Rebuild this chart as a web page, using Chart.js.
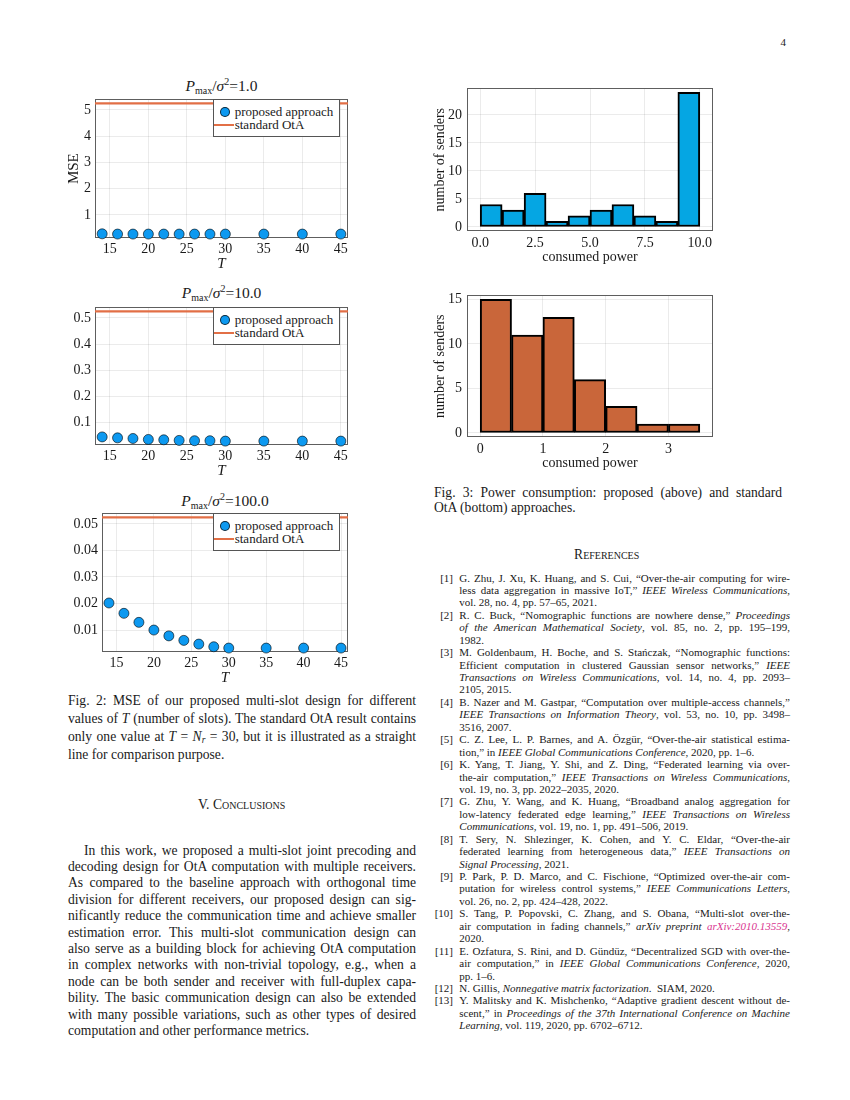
<!DOCTYPE html>
<html><head><meta charset="utf-8">
<title>MSE and power consumption</title>
<script src="https://cdn.jsdelivr.net/npm/chart.js@4.4.1/dist/chart.umd.min.js"></script>
<style>
html,body{margin:0;padding:0;background:#fff}
body{position:relative;width:850px;height:1100px;overflow:hidden;font-family:"Liberation Serif","Times New Roman",serif;color:#1a1a1a}
canvas{position:absolute}
.ct{position:absolute;font-size:15.5px;line-height:18px;text-align:center;white-space:nowrap}
.ct sub{font-size:10px;line-height:0;vertical-align:-3px}
.ct sup{font-size:10px;line-height:0;vertical-align:6px}
.lg{position:absolute;border:1px solid #555;background:#fff;box-sizing:border-box;z-index:5;width:127px;height:38px}
.lg .dot{position:absolute;left:6px;top:7px;width:10px;height:10px;border-radius:50%;background:#0d99f0;border:0.8px solid rgba(0,0,0,.75);box-sizing:border-box}
.lg .ln{position:absolute;left:0;top:23.5px;width:20px;height:2px;background:#e26f46}
.lg .tx{position:absolute;left:21px;font-size:13px;line-height:14px;white-space:nowrap}
.blk{position:absolute}
.blk div{white-space:nowrap}
.ref{position:relative;padding-left:25.3px}
.ref .n{position:absolute;left:0;top:0;width:19px;text-align:right}
.sc{position:absolute;font-variant:small-caps;white-space:nowrap;text-align:center}
sub.r{font-size:70%;line-height:0;vertical-align:-2px}
.pink{color:#d9348f}
</style>
</head>
<body>

<div style="position:absolute;left:760px;top:34px;width:26px;text-align:right;font-size:11px;line-height:16px">4</div>

<!-- chart titles -->
<div class="ct" style="left:95px;top:77px;width:253px"><i>P</i><sub>max</sub>/<i>σ</i><sup>2</sup>=1.0</div>
<div class="ct" style="left:95px;top:284px;width:253px"><i>P</i><sub>max</sub>/<i>σ</i><sup>2</sup>=10.0</div>
<div class="ct" style="left:102px;top:491.7px;width:246px"><i>P</i><sub>max</sub>/<i>σ</i><sup>2</sup>=100.0</div>

<canvas id="c1"></canvas>
<canvas id="c2"></canvas>
<canvas id="c3"></canvas>
<canvas id="h1"></canvas>
<canvas id="h2"></canvas>

<!-- legends -->
<div class="lg" style="left:212.7px;top:99.3px"><span class="dot"></span><span class="tx" style="top:5px">proposed approach</span><span class="ln"></span><span class="tx" style="top:17.7px">standard OtA</span></div>
<div class="lg" style="left:212.7px;top:307.3px"><span class="dot"></span><span class="tx" style="top:5px">proposed approach</span><span class="ln"></span><span class="tx" style="top:17.7px">standard OtA</span></div>
<div class="lg" style="left:212.7px;top:513.3px"><span class="dot"></span><span class="tx" style="top:5px">proposed approach</span><span class="ln"></span><span class="tx" style="top:17.7px">standard OtA</span></div>

<!-- Fig. 2 caption -->
<div class="blk" style="left:68px;top:692px;width:348px;font-size:13.6px;line-height:18px">
<div class="jl"><span>Fig. 2: MSE of our proposed multi-slot design for different</span></div>
<div class="jl"><span>values of <i>T</i> (number of slots). The standard OtA result contains</span></div>
<div class="jl"><span>only one value at <i>T</i> = <i>N<sub class="r">r</sub></i> = 30, but it is illustrated as a straight</span></div>
<div><span>line for comparison purpose.</span></div>
</div>

<div class="sc" style="left:141.7px;top:796px;width:200px;font-size:13.6px;line-height:18px">V. Conclusions</div>

<div class="blk" style="left:68px;top:842.5px;width:348px;font-size:13.6px;line-height:16.4px">
<div class="jl" style="padding-left:16px"><span>In this work, we proposed a multi-slot joint precoding and</span></div>
<div class="jl"><span>decoding design for OtA computation with multiple receivers.</span></div>
<div class="jl"><span>As compared to the baseline approach with orthogonal time</span></div>
<div class="jl"><span>division for different receivers, our proposed design can sig-</span></div>
<div class="jl"><span>nificantly reduce the communication time and achieve smaller</span></div>
<div class="jl"><span>estimation error. This multi-slot communication design can</span></div>
<div class="jl"><span>also serve as a building block for achieving OtA computation</span></div>
<div class="jl"><span>in complex networks with non-trivial topology, e.g., when a</span></div>
<div class="jl"><span>node can be both sender and receiver with full-duplex capa-</span></div>
<div class="jl"><span>bility. The basic communication design can also be extended</span></div>
<div class="jl"><span>with many possible variations, such as other types of desired</span></div>
<div><span>computation and other performance metrics.</span></div>
</div>

<!-- Fig. 3 caption -->
<div class="blk" style="left:434px;top:484.9px;width:348px;font-size:13.6px;line-height:15.6px">
<div class="jl"><span>Fig. 3: Power consumption: proposed (above) and standard</span></div>
<div><span>OtA (bottom) approaches.</span></div>
</div>

<div class="sc" style="left:506.7px;top:546px;width:200px;font-size:13.6px;line-height:18px">References</div>

<div class="blk" style="left:434px;top:571.5px;width:356px;font-size:11px;line-height:12.43px">
<div class="ref"><span class="n">[1]</span>
<div class="jl"><span>G. Zhu, J. Xu, K. Huang, and S. Cui, “Over-the-air computing for wire-</span></div>
<div class="jl"><span>less data aggregation in massive IoT,” <i>IEEE Wireless Communications</i>,</span></div>
<div><span>vol. 28, no. 4, pp. 57–65, 2021.</span></div></div>
<div class="ref"><span class="n">[2]</span>
<div class="jl"><span>R. C. Buck, “Nomographic functions are nowhere dense,” <i>Proceedings</i></span></div>
<div class="jl"><span><i>of the American Mathematical Society</i>, vol. 85, no. 2, pp. 195–199,</span></div>
<div><span>1982.</span></div></div>
<div class="ref"><span class="n">[3]</span>
<div class="jl"><span>M. Goldenbaum, H. Boche, and S. Stańczak, “Nomographic functions:</span></div>
<div class="jl"><span>Efficient computation in clustered Gaussian sensor networks,” <i>IEEE</i></span></div>
<div class="jl"><span><i>Transactions on Wireless Communications</i>, vol. 14, no. 4, pp. 2093–</span></div>
<div><span>2105, 2015.</span></div></div>
<div class="ref"><span class="n">[4]</span>
<div class="jl"><span>B. Nazer and M. Gastpar, “Computation over multiple-access channels,”</span></div>
<div class="jl"><span><i>IEEE Transactions on Information Theory</i>, vol. 53, no. 10, pp. 3498–</span></div>
<div><span>3516, 2007.</span></div></div>
<div class="ref"><span class="n">[5]</span>
<div class="jl"><span>C. Z. Lee, L. P. Barnes, and A. Özgür, “Over-the-air statistical estima-</span></div>
<div><span>tion,” in <i>IEEE Global Communications Conference</i>, 2020, pp. 1–6.</span></div></div>
<div class="ref"><span class="n">[6]</span>
<div class="jl"><span>K. Yang, T. Jiang, Y. Shi, and Z. Ding, “Federated learning via over-</span></div>
<div class="jl"><span>the-air computation,” <i>IEEE Transactions on Wireless Communications</i>,</span></div>
<div><span>vol. 19, no. 3, pp. 2022–2035, 2020.</span></div></div>
<div class="ref"><span class="n">[7]</span>
<div class="jl"><span>G. Zhu, Y. Wang, and K. Huang, “Broadband analog aggregation for</span></div>
<div class="jl"><span>low-latency federated edge learning,” <i>IEEE Transactions on Wireless</i></span></div>
<div><span><i>Communications</i>, vol. 19, no. 1, pp. 491–506, 2019.</span></div></div>
<div class="ref"><span class="n">[8]</span>
<div class="jl"><span>T. Sery, N. Shlezinger, K. Cohen, and Y. C. Eldar, “Over-the-air</span></div>
<div class="jl"><span>federated learning from heterogeneous data,” <i>IEEE Transactions on</i></span></div>
<div><span><i>Signal Processing</i>, 2021.</span></div></div>
<div class="ref"><span class="n">[9]</span>
<div class="jl"><span>P. Park, P. D. Marco, and C. Fischione, “Optimized over-the-air com-</span></div>
<div class="jl"><span>putation for wireless control systems,” <i>IEEE Communications Letters</i>,</span></div>
<div><span>vol. 26, no. 2, pp. 424–428, 2022.</span></div></div>
<div class="ref"><span class="n">[10]</span>
<div class="jl"><span>S. Tang, P. Popovski, C. Zhang, and S. Obana, “Multi-slot over-the-</span></div>
<div class="jl"><span>air computation in fading channels,” <i>arXiv preprint <span class="pink">arXiv:2010.13559</span></i>,</span></div>
<div><span>2020.</span></div></div>
<div class="ref"><span class="n">[11]</span>
<div class="jl"><span>E. Ozfatura, S. Rini, and D. Gündüz, “Decentralized SGD with over-the-</span></div>
<div class="jl"><span>air computation,” in <i>IEEE Global Communications Conference</i>, 2020,</span></div>
<div><span>pp. 1–6.</span></div></div>
<div class="ref"><span class="n">[12]</span>
<div><span>N. Gillis, <i>Nonnegative matrix factorization</i>.&nbsp;&nbsp;SIAM, 2020.</span></div></div>
<div class="ref"><span class="n">[13]</span>
<div class="jl"><span>Y. Malitsky and K. Mishchenko, “Adaptive gradient descent without de-</span></div>
<div class="jl"><span>scent,” in <i>Proceedings of the 37th International Conference on Machine</i></span></div>
<div><span><i>Learning</i>, vol. 119, 2020, pp. 6702–6712.</span></div></div>
</div>

<script>
// ---------------- data ----------------
const T = [14, 16, 18, 20, 22, 24, 26, 28, 30, 35, 40, 45];
const mseProposedP1   = [0.28, 0.27, 0.27, 0.27, 0.27, 0.27, 0.27, 0.27, 0.27, 0.27, 0.27, 0.27];
const mseProposedP10  = [0.045, 0.0414, 0.039, 0.0353, 0.034, 0.0317, 0.0305, 0.0305, 0.029, 0.029, 0.029, 0.029];
const mseProposedP100 = [0.0202, 0.0163, 0.0129, 0.0100, 0.0078, 0.0061, 0.0047, 0.0037, 0.0032, 0.0032, 0.0032, 0.0032];
const mseOtAP1 = 5.25;
const mseOtAP10 = 0.525;
const mseOtAP100 = 0.0525;
const tTicks = [15, 20, 25, 30, 35, 40, 45];
const mseTicksP1 = [1, 2, 3, 4, 5];
const mseTicksP10 = [0.1, 0.2, 0.3, 0.4, 0.5];
const mseTicksP100 = [0.01, 0.02, 0.03, 0.04, 0.05];

const powerEdgesProposed = [0, 1, 2, 3, 4, 5, 6, 7, 8, 9, 10];
const sendersProposed = [4, 3, 6, 1, 2, 3, 4, 2, 1, 24];
const powerEdgesStandard = [0, 0.5, 1, 1.5, 2, 2.5, 3, 3.5];
const sendersStandard = [15, 11, 13, 6, 3, 1, 1];
const powerTicksProposed = [0, 2.5, 5, 7.5, 10];
const powerTicksStandard = [0, 1, 2, 3];
const senderTicksProposed = [0, 5, 10, 15, 20];
const senderTicksStandard = [0, 5, 10, 15];

// ---------------- style ----------------
const FONT = '"Liberation Serif", "Times New Roman", serif';
const BLUE = '#0d99f0';
const ORANGE = '#e26f46';
const HIST_BLUE = '#05a6e3';
const HIST_ORANGE = '#c9663a';
const GRID = 'rgba(0,0,0,0.08)';
const TXT = '#1a1a1a';

Chart.defaults.font.family = FONT;
Chart.defaults.color = TXT;

function padLimits(lo, hi, f) { const r = hi - lo; return [lo - f * r, hi + f * r]; }

const framePlugin = {
  id: 'frame',
  beforeDatasetsDraw(chart) {
    const { ctx, chartArea: a } = chart;
    ctx.save();
    ctx.strokeStyle = '#5e5e5e';
    ctx.lineWidth = 1;
    ctx.strokeRect(Math.round(a.left) + 0.5, Math.round(a.top) + 0.5, Math.round(a.width) - 1, Math.round(a.height) - 1);
    ctx.restore();
  }
};

function placeCanvas(id, plot, yw, pt, pr, xh) {
  const c = document.getElementById(id);
  const w = Math.round(yw + (plot.r - plot.l) + pr);
  const h = Math.round(pt + (plot.b - plot.t) + xh);
  c.width = w; c.height = h;
  c.style.left = (plot.l - yw) + 'px';
  c.style.top = (plot.t - pt) + 'px';
  c.style.width = w + 'px'; c.style.height = h + 'px';
  return c;
}

function mseChart(id, plot, yw, values, ota, yTicks, yFmt, yTitle, yTitlePad) {
  const PT = 8, PR = 12, XH = 35;
  const c = placeCanvas(id, plot, yw, PT, PR, XH);
  const xl = padLimits(Math.min(...T), Math.max(...T), 0.03);
  const yl = padLimits(Math.min(...values, ota), Math.max(...values, ota), 0.03);
  new Chart(c, {
    type: 'scatter',
    data: {
      datasets: [
        { label: 'proposed approach', data: T.map((t, i) => ({ x: t, y: values[i] })),
          pointRadius: 5, pointHoverRadius: 5, pointBackgroundColor: BLUE,
          pointBorderColor: 'rgba(0,0,0,0.75)', pointBorderWidth: 0.8, clip: false, order: 1 },
        { label: 'standard OtA', type: 'line', data: [{ x: xl[0], y: ota }, { x: xl[1], y: ota }],
          borderColor: ORANGE, borderWidth: 2.2, pointRadius: 0, showLine: true, fill: false, order: 2 }
      ]
    },
    options: {
      responsive: false, animation: false, devicePixelRatio: 1,
      layout: { padding: { left: 0, top: PT, right: PR, bottom: 0 } },
      plugins: { legend: { display: false }, tooltip: { enabled: false }, title: { display: false } },
      scales: {
        x: {
          type: 'linear', min: xl[0], max: xl[1],
          afterBuildTicks: s => { s.ticks = tTicks.map(v => ({ value: v })); },
          afterFit: s => { s.height = XH; },
          grid: { color: GRID, drawTicks: false }, border: { display: false },
          ticks: { padding: 3, font: { size: 14 }, color: TXT, maxRotation: 0, callback: v => String(v) },
          title: { display: true, text: 'T', font: { size: 15, style: 'italic' }, padding: 0, color: TXT }
        },
        y: {
          type: 'linear', min: yl[0], max: yl[1],
          afterBuildTicks: s => { s.ticks = yTicks.map(v => ({ value: v })); },
          afterFit: s => { s.width = yw; },
          grid: { color: GRID, drawTicks: false }, border: { display: false },
          ticks: { padding: 4, font: { size: 14 }, color: TXT, callback: v => yFmt(v) },
          title: yTitle ? { display: true, text: yTitle, font: { size: 15 }, padding: { top: yTitlePad, bottom: 0 }, color: TXT } : { display: false }
        }
      }
    },
    plugins: [framePlugin]
  });
}

function histChart(id, plot, edges, counts, color, xTicks, xFmt, yTicks) {
  const PT = 8, PR = 12, XH = 35, YW = 40;
  const c = placeCanvas(id, plot, YW, PT, PR, XH);
  const centers = counts.map((_, i) => (edges[i] + edges[i + 1]) / 2);
  const xl = padLimits(edges[0], edges[edges.length - 1], 0.06);
  const yl = padLimits(0, Math.max(...counts), 0.03);
  new Chart(c, {
    type: 'bar',
    data: {
      datasets: [{
        data: centers.map((x, i) => ({ x: x, y: counts[i] })),
        backgroundColor: color, borderColor: '#000', borderWidth: 2, borderSkipped: false,
        barPercentage: 1, categoryPercentage: 1
      }]
    },
    options: {
      responsive: false, animation: false, devicePixelRatio: 1,
      layout: { padding: { left: 0, top: PT, right: PR, bottom: 0 } },
      plugins: { legend: { display: false }, tooltip: { enabled: false } },
      scales: {
        x: {
          type: 'linear', min: xl[0], max: xl[1], offset: false,
          afterBuildTicks: s => { s.ticks = xTicks.map(v => ({ value: v })); },
          afterFit: s => { s.height = XH; },
          grid: { color: GRID, drawTicks: false, offset: false }, border: { display: false },
          ticks: { padding: 4, font: { size: 14 }, color: TXT, maxRotation: 0, callback: v => xFmt(v) },
          title: { display: true, text: 'consumed power', font: { size: 14 }, padding: 0, color: TXT }
        },
        y: {
          type: 'linear', min: yl[0], max: yl[1], beginAtZero: false,
          afterBuildTicks: s => { s.ticks = yTicks.map(v => ({ value: v })); },
          afterFit: s => { s.width = YW; },
          grid: { color: GRID, drawTicks: false }, border: { display: false },
          ticks: { padding: 5, font: { size: 14 }, color: TXT, callback: v => String(v) },
          title: { display: true, text: 'number of senders', font: { size: 14 }, padding: { top: 5.3, bottom: 0 }, color: TXT }
        }
      }
    },
    plugins: [framePlugin]
  });
}

mseChart('c1', { l: 95, t: 95, r: 348, b: 238 }, 40, mseProposedP1, mseOtAP1, mseTicksP1, v => String(v), 'MSE', 10);
mseChart('c2', { l: 95, t: 303, r: 348, b: 445 }, 40, mseProposedP10, mseOtAP10, mseTicksP10, v => v.toFixed(1), null, 0);
mseChart('c3', { l: 102, t: 509, r: 348, b: 652 }, 47, mseProposedP100, mseOtAP100, mseTicksP100, v => v.toFixed(2), null, 0);
histChart('h1', { l: 467, t: 83, r: 713, b: 231 }, powerEdgesProposed, sendersProposed, HIST_BLUE, powerTicksProposed, v => v.toFixed(1), senderTicksProposed);
histChart('h2', { l: 467, t: 290, r: 713, b: 437 }, powerEdgesStandard, sendersStandard, HIST_ORANGE, powerTicksStandard, v => String(v), senderTicksStandard);

// justify text lines
function justify() {
  document.querySelectorAll('.jl').forEach(d => {
    const s = d.firstElementChild;
    s.style.wordSpacing = '0px';
    const target = d.getBoundingClientRect().right - s.getBoundingClientRect().left;
    const nat = s.getBoundingClientRect().width;
    const n = (s.textContent.match(/ /g) || []).length;
    if (n > 0) s.style.wordSpacing = ((target - nat) / n) + 'px';
  });
}
justify();
if (document.fonts && document.fonts.ready) document.fonts.ready.then(justify);
</script>
</body></html>
